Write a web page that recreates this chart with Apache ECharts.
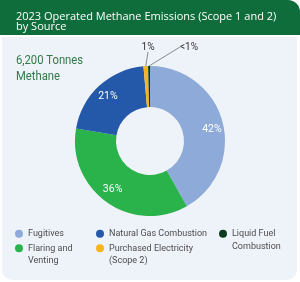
<!DOCTYPE html>
<html><head><meta charset="utf-8">
<script src="https://cdn.jsdelivr.net/npm/echarts@6/dist/echarts.min.js"></script>
<style>html,body{margin:0;padding:0;background:#fff;}#c{width:300px;height:282px;}</style>
</head><body><div id="c"></div>
<script>
const categories = ['Fugitives','Flaring and Venting','Natural Gas Combustion','Purchased Electricity (Scope 2)','Liquid Fuel Combustion'];
const legendLabels = ['Fugitives','Flaring and\nVenting','Natural Gas Combustion','Purchased Electricity\n(Scope 2)','Liquid Fuel\nCombustion'];
const values = [42, 36, 21, 1, 0.4];
const valueLabels = ['42%','36%','21%','1%','<1%'];
const colors = ['#8eaad8','#2ab24b','#2458a8','#f6b51c','#0c3a1f'];
const titleText = '2023 Operated Methane Emissions (Scope 1 and 2)\nby Source';
const subtitleText = '6,200 Tonnes\nMethane';

const FONT = 'Roboto,sans-serif';
const legendSpots = [[15,227.5],[15,229.5],[96,227.5],[96,229.5],[219,215]];
const LH = 12.5;
const labelNudge = [[-1,5],[0,-5],[2,3]];

const legends = categories.map((name,i)=>{
  const multi = legendLabels[i].indexOf('\n')>=0;
  return {
    data:[name], left:legendSpots[i][0], top:legendSpots[i][1], padding:0,
    icon:'circle', itemWidth:8, itemHeight:8,
    formatter:()=> multi ? '\n'+legendLabels[i] : legendLabels[i],
    textStyle:{color:'#4d4d4d', fontSize:9, fontFamily:FONT, lineHeight:LH},
    selectedMode:false
  };
});

const chart = echarts.init(document.getElementById('c'), null, {renderer:'canvas'});
chart.setOption({
  animation:false,
  color:colors,
  title:{text:titleText, left:16, top:12, padding:0,
    textStyle:{color:'#ffffff', fontSize:11, fontWeight:'normal', fontFamily:'"Open Sans",sans-serif', lineHeight:10}},
  legend:legends,
  graphic:[
    {type:'rect', z:-10, shape:{x:2,y:37,width:295,height:243,r:[0,0,10,10]}, style:{fill:'#eef2f9'}},
    {type:'rect', z:-10, shape:{x:0,y:0,width:300,height:35,r:[0,12,0,0]}, style:{fill:'#0f6d3b'}},
    {type:'text', x:16, y:52.5, scaleX:0.9, style:{text:subtitleText, font:'12.5px '+FONT, fill:'#2f7a49', lineHeight:16.5}}
  ],
  series:[
    {type:'pie', radius:[34,75], center:[150,141], startAngle:90, silent:true,
     label:{show:false}, labelLine:{show:false},
     data:categories.map((n,i)=>({name:n, value:values[i], itemStyle:{color:colors[i]}}))},
    {type:'pie', radius:[49,75], center:[150,141], startAngle:90, silent:true,
     itemStyle:{color:'rgba(0,0,0,0)'},
     label:{show:true, position:'inside', color:'#ffffff', fontSize:10.5, fontFamily:FONT, formatter:p=>valueLabels[p.dataIndex]},
     labelLine:{show:false},
     labelLayout:function(p){
       if(p.dataIndex===3) return {x:148, y:47, align:'center', verticalAlign:'middle'};
       if(p.dataIndex===4) return {x:189, y:47, align:'center', verticalAlign:'middle'};
       const n = labelNudge[p.dataIndex];
       return {dx:n[0], dy:n[1]};
     },
     data:categories.map((n,i)=>{
       const d={name:n, value:values[i]};
       if(i>=3){
         d.label={position:'outside', color:'#333333', fontSize:10};
         d.labelLine={show:true, length:13, length2:0, lineStyle:{color:'#8a8a8a', width:1}};
       }
       return d;
     })}
  ]
});
</script></body></html>
